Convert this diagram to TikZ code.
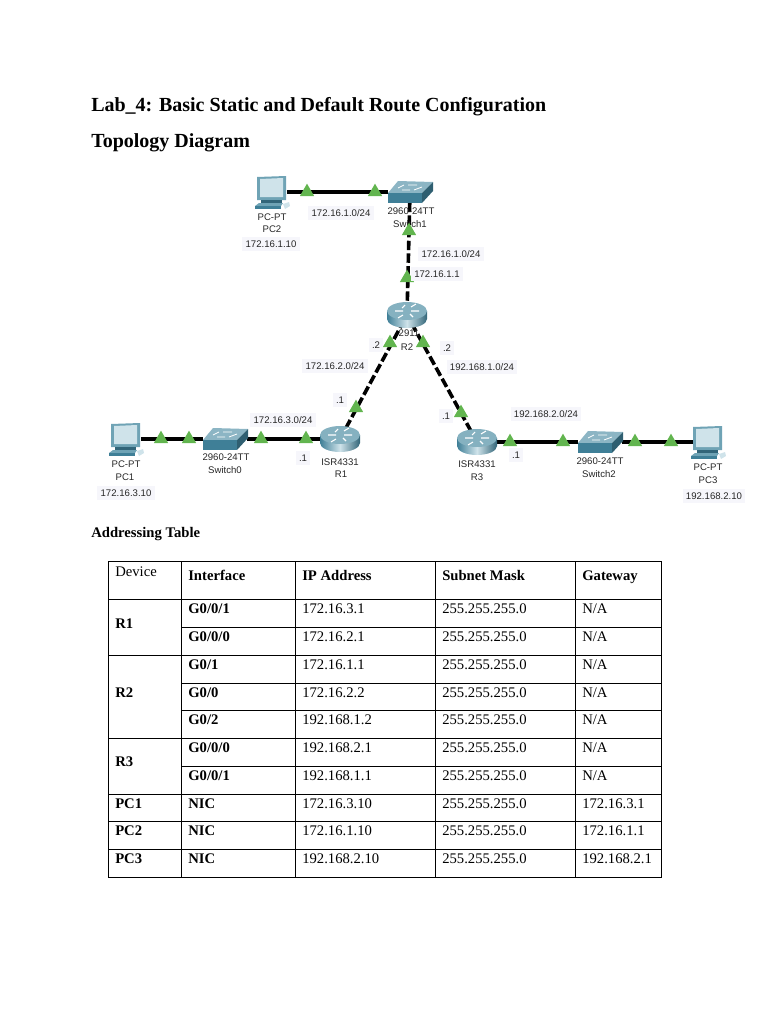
\documentclass[tikz,border=0pt]{standalone}
\usepackage{fontspec}
\setmainfont{Liberation Serif}
\setsansfont{Liberation Sans}
\usetikzlibrary{shapes.geometric}
\definecolor{linkGreen}{HTML}{62B54F}
\definecolor{labelBack}{HTML}{F6F6FB}
\definecolor{iconDark}{HTML}{3F7F97}
\definecolor{iconMid}{HTML}{6FA3B5}
\definecolor{iconLight}{HTML}{CFE3EA}
\tikzset{>=stealth,
  device/.style={inner sep=0pt,minimum width=#1,minimum height=21*0.75pt},
  linkline/.style={line width=2.7pt,black},
  linkdash/.style={line width=2.7pt,black,dash pattern=on 7pt off 2.5pt},
  updot/.style={regular polygon,regular polygon sides=3,fill=linkGreen,inner sep=0pt,minimum size=12.5pt},
  netlabel/.style={fill=labelBack,inner sep=2.5pt,font=\sffamily\fontsize{7.2}{8}\selectfont,text=black!85},
  devlabel/.style={inner sep=0pt,font=\sffamily\fontsize{7.2}{8}\selectfont,text=black!85},
  titletext/.style={anchor=base west,inner sep=0pt,font=\bfseries\fontsize{15}{16}\selectfont},
  cell/.style={anchor=base west,inner sep=0pt,font=\fontsize{11}{12}\selectfont},
  boldcell/.style={cell,font=\bfseries\fontsize{11}{12}\selectfont},
  pcicon/.pic={
    \fill[iconMid] (-15,-15) -- (14,-16) -- (14,8) -- (-15,8) -- cycle;
    \fill[iconLight] (-12,-13) -- (11,-14) -- (11,5) -- (-12,5) -- cycle;
    \fill[iconDark!80!black] (-11,8) -- (10,8) -- (10,11) -- (-11,11) -- cycle;
    \fill[iconMid] (-13,11) -- (11,11) -- (9,14) -- (-17,14) -- cycle;
    \fill[iconDark] (-17,14) -- (9,14) -- (9,17) -- (-17,17) -- cycle;
    \fill[iconLight] (11,12) -- (17,10) -- (18,14) -- (13,17) -- cycle;
  },
  switchicon/.pic={
    \fill[iconMid!80!white] (-22,1) -- (-12,-11) -- (23,-10) -- (12,1) -- cycle;
    \fill[iconDark] (-22,1) -- (12,1) -- (12,11) -- (-22,11) -- cycle;
    \fill[iconDark!75!black] (12,1) -- (23,-10) -- (23,-1) -- (12,11) -- cycle;
    \draw[white,line width=0.6pt] (-8,-2) -- (0,-2) (-2,-7) -- (7,-7) (-12,-4) -- (-6,-7) (4,-2) -- (12,-5);
  },
  routericon/.pic={
    \shade[left color=iconDark,right color=iconDark!80!black,middle color=iconLight] (-20,-4) -- (-20,4) arc[start angle=180,end angle=0,x radius=20,y radius=9] -- (20,-4) -- cycle;
    \fill[iconMid!85!white] (0,-4) ellipse[x radius=20,y radius=9];
    \draw[white,line width=0.8pt] (-12,-4) -- (-4,-4) (4,-4) -- (12,-4) (-2,-10) -- (-5,-7) (3,-1) -- (6,2) (4,-8) -- (9,-11) (-4,0) -- (-9,3);
  }
}
\newcommand{\tablerow}[6]{%
  \node[boldcell] (if#2) at (188,#1) {#3};
  \node[cell] (ip#2) at (302,#1) {#4};
  \node[cell] (mask#2) at (442,#1) {#5};
  \node[cell] (gw#2) at (582,#1) {#6};
}
\begin{document}
\begin{tikzpicture}[x=0.75pt,y=-0.75pt]
  \useasboundingbox (0,0) rectangle (768,1024);
  % headings
  \node[titletext] (title) at (91,111) {Lab\_4: Basic Static and Default Route Configuration};
  \node[titletext] (topo) at (91,147) {Topology Diagram};
  \node[boldcell] (addr) at (91,537) {Addressing Table};

  % devices
  \node[device=22pt] (PC2) at (272,192) {};
  \node[device=33pt] (Switch1) at (410,192) {};
  \node[device=30pt] (R2) at (407,315) {};
  \node[device=22pt] (PC1) at (126,439) {};
  \node[device=33pt] (Switch0) at (225,439) {};
  \node[device=30pt] (R1) at (340,439) {};
  \node[device=30pt] (R3) at (477,442) {};
  \node[device=33pt] (Switch2) at (600,442) {};
  \node[device=22pt] (PC3) at (708,442) {};

  % links
  \draw[linkline] (PC2) -- (Switch1);
  \draw[linkline] (PC1) -- (Switch0);
  \draw[linkline] (Switch0) -- (R1);
  \draw[linkline] (R3) -- (Switch2);
  \draw[linkline] (Switch2) -- (PC3);
  \draw[linkdash] (Switch1) -- (R2);
  \draw[linkdash] (R1) -- (R2);
  \draw[linkdash] (R3) -- (R2);

  % icons
  \pic at (PC2) {pcicon};
  \pic at (PC1) {pcicon};
  \pic at (PC3) {pcicon};
  \pic at (Switch1) {switchicon};
  \pic at (Switch0) {switchicon};
  \pic at (Switch2) {switchicon};
  \pic at (R2) {routericon};
  \pic at (R1) {routericon};
  \pic at (R3) {routericon};

  % device names
  \node[devlabel] (lPC2a) at (272,217) {PC-PT};
  \node[devlabel] (lPC2b) at (272,229) {PC2};
  \node[devlabel] (lS1a) at (411,211) {2960-24TT};
  \node[devlabel] (lS1b) at (410,224) {Switch1};
  \node[devlabel] (lR2a) at (409,333) {2911};
  \node[devlabel] (lR2b) at (407,347) {R2};
  \node[devlabel] (lPC1a) at (126,464) {PC-PT};
  \node[devlabel] (lPC1b) at (125,477) {PC1};
  \node[devlabel] (lS0a) at (226,457) {2960-24TT};
  \node[devlabel] (lS0b) at (225,470) {Switch0};
  \node[devlabel] (lR1a) at (340,462) {ISR4331};
  \node[devlabel] (lR1b) at (341,474) {R1};
  \node[devlabel] (lR3a) at (477,464) {ISR4331};
  \node[devlabel] (lR3b) at (477,477) {R3};
  \node[devlabel] (lS2a) at (600,461) {2960-24TT};
  \node[devlabel] (lS2b) at (599,474) {Switch2};
  \node[devlabel] (lPC3a) at (708,467) {PC-PT};
  \node[devlabel] (lPC3b) at (708,480) {PC3};

  % link lights
  \foreach \n/\px/\py in {a/307/192,b/375/192,c/409/231,d/407/278,e/390/343,f/423/343,g/356/408,h/461/413,
      i/161/439,j/189/439,k/261/439,l/306/439,m/510/442,o/563/442,p/635/442,q/671/442}
    \node[updot] (up\n) at (\px,\py) {};

  % addresses
  \node[netlabel] (net1) at (341,213) {172.16.1.0/24};
  \node[netlabel] (net2) at (451,254) {172.16.1.0/24};
  \node[netlabel] (net3) at (335,366) {172.16.2.0/24};
  \node[netlabel] (net4) at (482,367) {192.168.1.0/24};
  \node[netlabel] (net5) at (283,420) {172.16.3.0/24};
  \node[netlabel] (net6) at (546,414) {192.168.2.0/24};
  \node[netlabel] (host1) at (271,244) {172.16.1.10};
  \node[netlabel] (host2) at (126,493) {172.16.3.10};
  \node[netlabel] (host3) at (714,496) {192.168.2.10};
  \node[netlabel] (gate1) at (437,274) {172.16.1.1};
  \node[netlabel] (dotA) at (376,345) {.2};
  \node[netlabel] (dotB) at (447,348) {.2};
  \node[netlabel] (dotC) at (340,400) {.1};
  \node[netlabel] (dotD) at (303,458) {.1};
  \node[netlabel] (dotE) at (446,416) {.1};
  \node[netlabel] (dotF) at (516,455) {.1};

  % table rules
  \draw[line width=0.7pt] (108,561) rectangle (661,877);
  \foreach \vx in {181,295,435,575}
    \draw[line width=0.7pt] (\vx,561) -- (\vx,877);
  \foreach \hy in {599,655,738,794,821,849}
    \draw[line width=0.7pt] (108,\hy) -- (661,\hy);
  \foreach \hy in {627,683,710,766}
    \draw[line width=0.7pt] (181,\hy) -- (661,\hy);

  % table text
  \node[cell] (head1) at (115,576) {Device};
  \node[boldcell] (head2) at (188,580) {Interface};
  \node[boldcell] (head3) at (302,580) {IP Address};
  \node[boldcell] (head4) at (442,580) {Subnet Mask};
  \node[boldcell] (head5) at (582,580) {Gateway};
  \node[boldcell] (devR1) at (115,628) {R1};
  \node[boldcell] (devR2) at (115,697) {R2};
  \node[boldcell] (devR3) at (115,766) {R3};
  \node[boldcell] (devPC1) at (115,808) {PC1};
  \node[boldcell] (devPC2) at (115,835) {PC2};
  \node[boldcell] (devPC3) at (115,863) {PC3};
  \tablerow{613}{1}{G0/0/1}{172.16.3.1}{255.255.255.0}{N/A}
  \tablerow{641}{2}{G0/0/0}{172.16.2.1}{255.255.255.0}{N/A}
  \tablerow{669}{3}{G0/1}{172.16.1.1}{255.255.255.0}{N/A}
  \tablerow{697}{4}{G0/0}{172.16.2.2}{255.255.255.0}{N/A}
  \tablerow{724}{5}{G0/2}{192.168.1.2}{255.255.255.0}{N/A}
  \tablerow{752}{6}{G0/0/0}{192.168.2.1}{255.255.255.0}{N/A}
  \tablerow{780}{7}{G0/0/1}{192.168.1.1}{255.255.255.0}{N/A}
  \tablerow{808}{8}{NIC}{172.16.3.10}{255.255.255.0}{172.16.3.1}
  \tablerow{835}{9}{NIC}{172.16.1.10}{255.255.255.0}{172.16.1.1}
  \tablerow{863}{10}{NIC}{192.168.2.10}{255.255.255.0}{192.168.2.1}
\end{tikzpicture}
\end{document}
